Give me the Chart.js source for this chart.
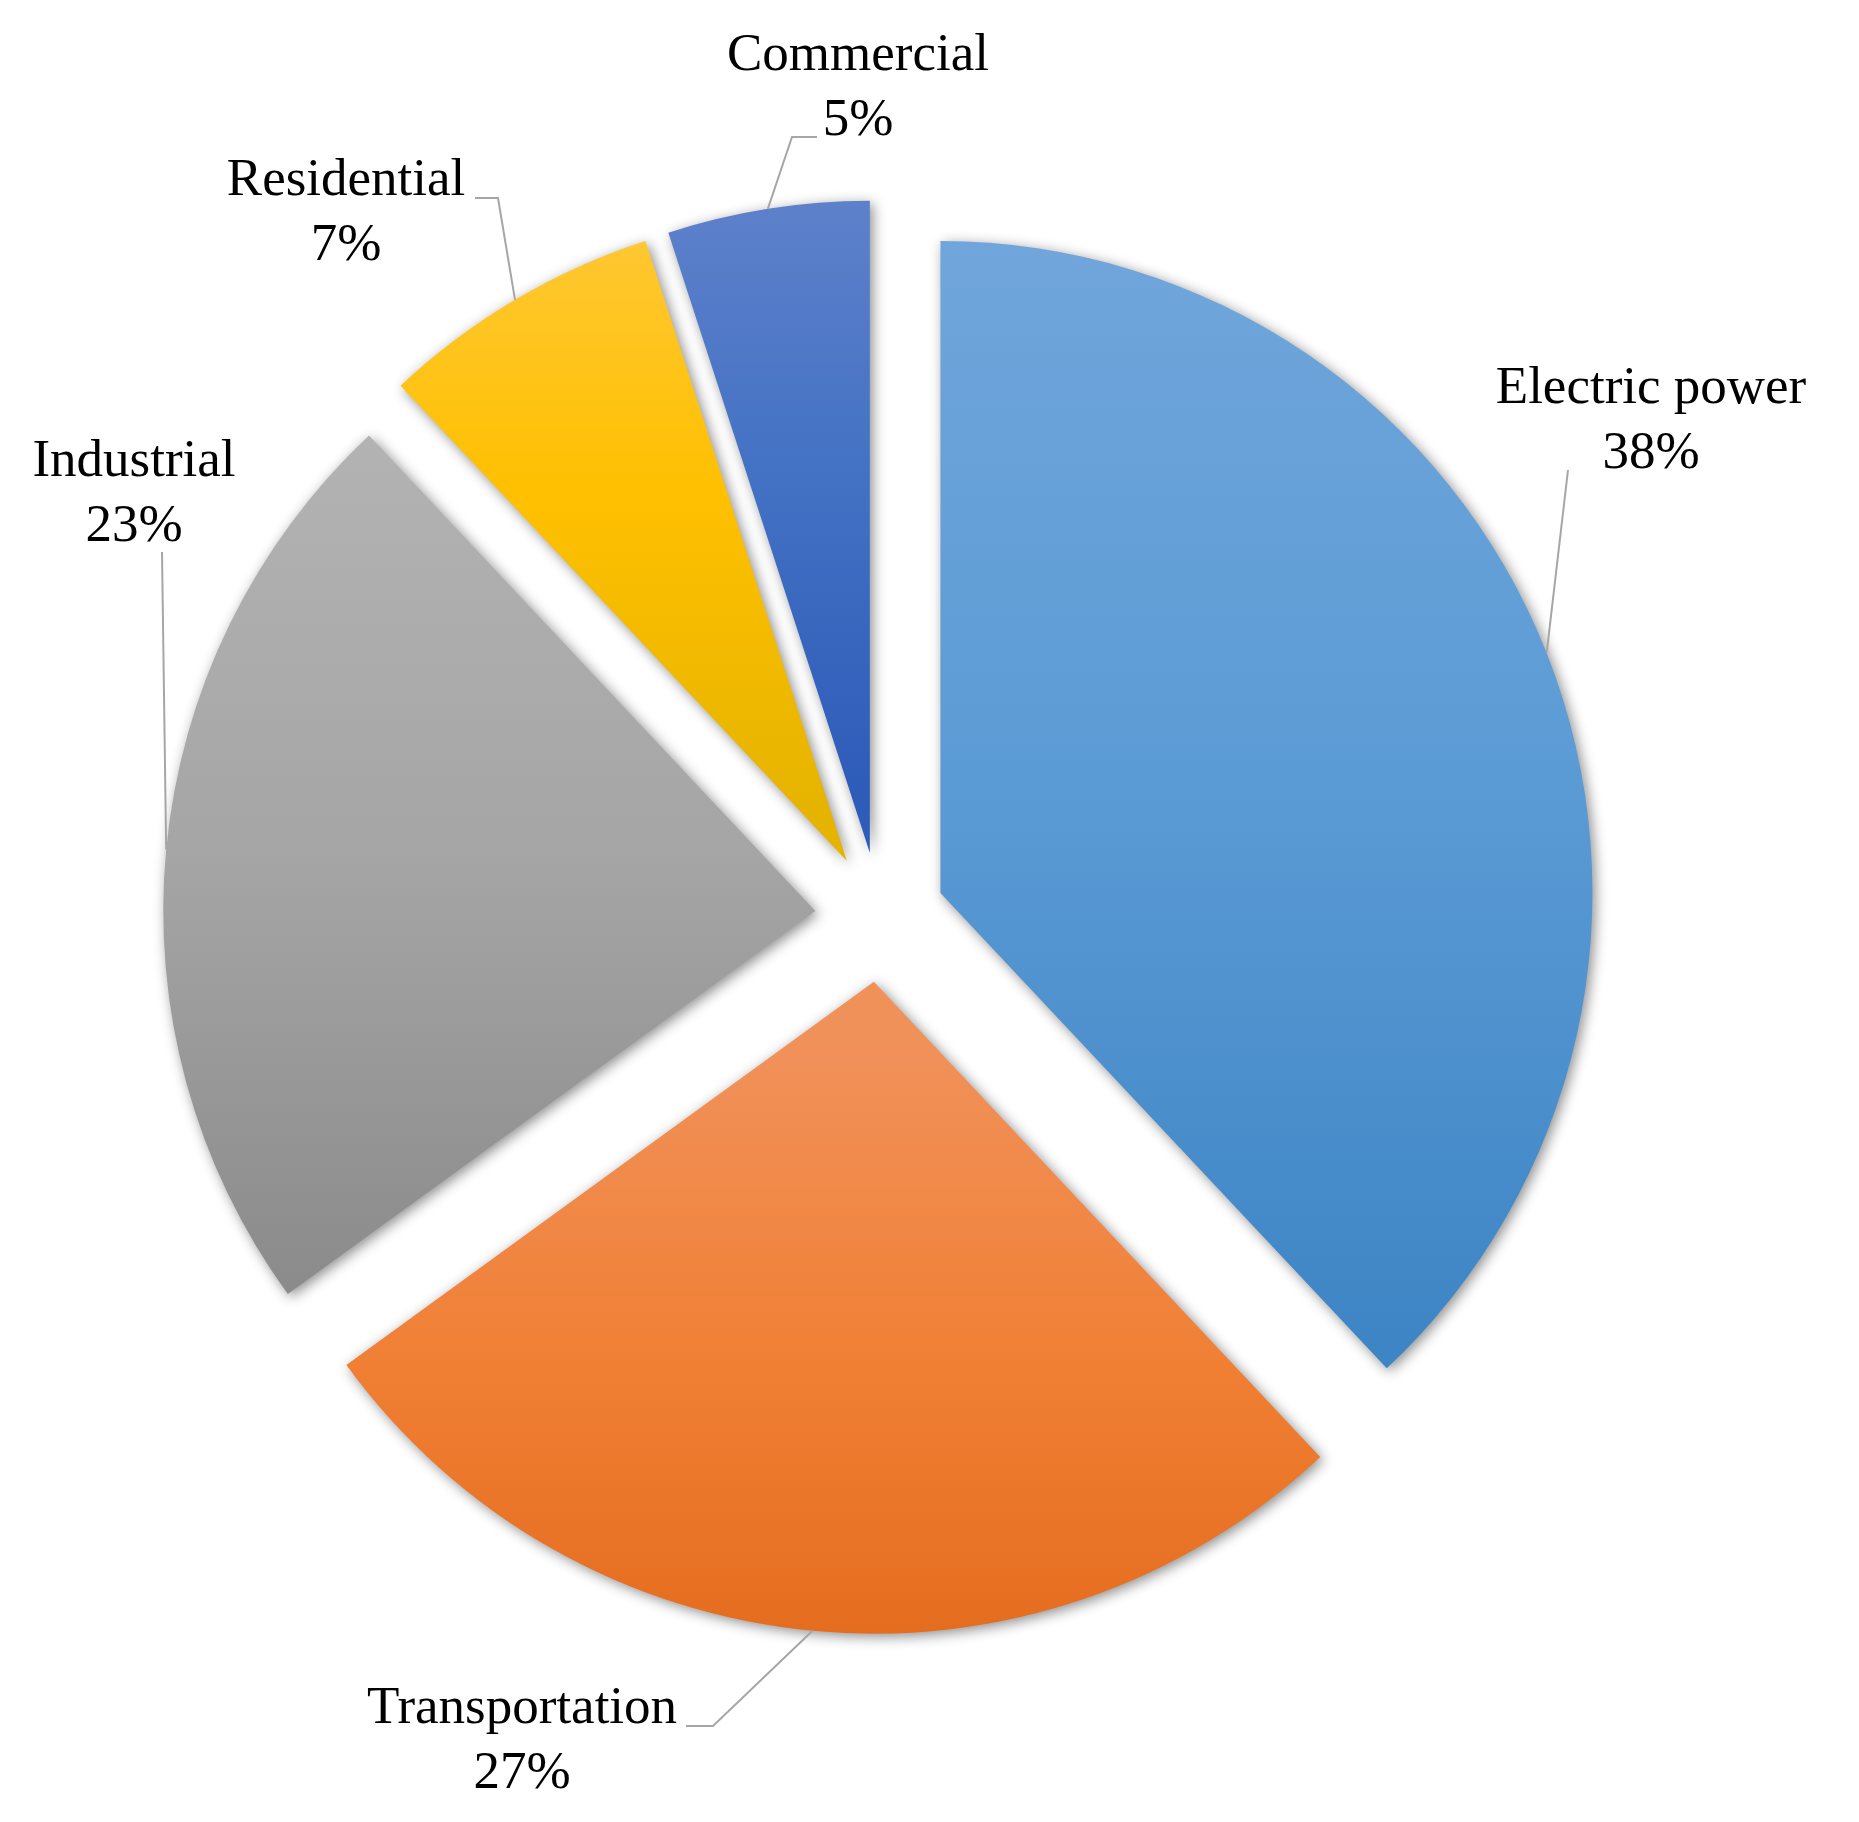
<!DOCTYPE html>
<html>
<head>
<meta charset="utf-8">
<script src="https://cdn.jsdelivr.net/npm/chart.js@4.4.1/dist/chart.umd.min.js"></script>
<style>
  html, body { margin: 0; padding: 0; background: #fff; }
  #cadre { width: 1859px; height: 1822px; position: relative; }
</style>
</head>
<body>
<div id="cadre"><canvas id="graphique-secteurs"></canvas></div>
<script>
// Données
const categories = ["Electric power", "Transportation", "Industrial", "Residential", "Commercial"]
const parts = [38, 27, 23, 7, 5]

// Couleurs du dégradé (haut, milieu, bas) de chaque secteur
const couleursHaut = ["#71a6db", "#f1915a", "#b3b3b3", "#ffc93c", "#6484cc"]
const couleursMilieu = ["#5b9bd5", "#f07f33", "#a5a5a5", "#ffc000", "#4472c4"]
const couleursBas = ["#3e85c5", "#e2681a", "#8b8b8b", "#e6b400", "#2e5cb9"]

const RAYON = 652
const ECART = 65 // éclatement des secteurs

// Placement des étiquettes : centre du texte, ligne de base, coudes du trait de rappel
const etiquettes = [
    { x: 1651, y: 403, coudes: [[1568, 470]] },
    { x: 522, y: 1723, coudes: [[686, 1726], [713, 1726]] },
    { x: 134, y: 476, coudes: [[162, 552]] },
    { x: 346, y: 195, coudes: [[475, 198], [498, 198]] },
    { x: 858, y: 70, coudes: [[817, 137], [792, 137]] }
]

const total = parts.reduce((a, b) => a + b, 0)

// Dégradé vertical calé sur la hauteur de chaque secteur
function degradeSecteur(context) {
    const chart = context.chart
    const zone = chart.chartArea
    const i = context.dataIndex
    if (!zone) return couleursMilieu[i]
    const avant = parts.slice(0, i).reduce((a, b) => a + b, 0)
    const debut = -Math.PI / 2 + 2 * Math.PI * avant / total
    const fin = debut + 2 * Math.PI * parts[i] / total
    const milieu = (debut + fin) / 2
    const cy = (zone.top + zone.bottom) / 2 + Math.sin(milieu) * ECART
    let haut = cy
    let bas = cy
    for (let k = 0; k <= 60; k++) {
        const y = cy + Math.sin(debut + (fin - debut) * k / 60) * RAYON
        haut = Math.min(haut, y)
        bas = Math.max(bas, y)
    }
    const g = chart.ctx.createLinearGradient(0, haut, 0, bas)
    g.addColorStop(0, couleursHaut[i])
    g.addColorStop(0.5, couleursMilieu[i])
    g.addColorStop(1, couleursBas[i])
    return g
}

// Chart.js agrandit un peu les secteurs étroits quand ils sont décalés : on compense
const correctionRayon = {
    id: "correctionRayon",
    afterDatasetUpdate(chart, args) {
        for (const arc of args.meta.data) {
            const fix = 1 - Math.sin(Math.min(Math.PI, arc.circumference))
            const ro = ECART * fix
            arc.outerRadius = RAYON - ro
            const d = ro / (2 * Math.PI * RAYON)
            arc.startAngle -= d
            arc.endAngle += d
        }
    }
}

const ombre = {
    id: "ombre",
    beforeDatasetsDraw(chart) {
        const ctx = chart.ctx
        ctx.save()
        ctx.shadowColor = "rgba(0, 0, 0, 0.45)"
        ctx.shadowBlur = 13
        ctx.shadowOffsetX = 3
        ctx.shadowOffsetY = 3
    },
    afterDatasetsDraw(chart) {
        chart.ctx.restore()
    }
}

const etiquettesSecteurs = {
    id: "etiquettesSecteurs",
    afterDraw(chart) {
        const ctx = chart.ctx
        const meta = chart.getDatasetMeta(0)
        ctx.save()
        meta.data.forEach((arc, i) => {
            const e = etiquettes[i]
            const milieu = (arc.startAngle + arc.endAngle) / 2
            const cx = arc.x + Math.cos(milieu) * ECART
            const cy = arc.y + Math.sin(milieu) * ECART
            const bout = [cx + Math.cos(milieu) * RAYON, cy + Math.sin(milieu) * RAYON]
            // trait de rappel
            ctx.strokeStyle = "#a6a6a6"
            ctx.lineWidth = 2
            ctx.beginPath()
            e.coudes.forEach((p, k) => k === 0 ? ctx.moveTo(p[0], p[1]) : ctx.lineTo(p[0], p[1]))
            ctx.lineTo(bout[0], bout[1])
            ctx.stroke()
            // texte
            ctx.fillStyle = "#000"
            ctx.font = "53px 'Liberation Serif', 'Times New Roman', serif"
            ctx.textAlign = "center"
            ctx.textBaseline = "alphabetic"
            ctx.fillText(categories[i], e.x, e.y)
            ctx.fillText(Math.round(parts[i] / total * 100) + "%", e.x, e.y + 65)
        })
        ctx.restore()
    }
}

const data = {
    labels: categories,
    datasets: [{
        data: parts,
        backgroundColor: degradeSecteur,
        borderWidth: 0,
        offset: ECART * 4,
        hoverOffset: 0,
        radius: RAYON
    }]
}

const config = {
    type: "pie",
    data: data,
    options: {
        responsive: true,
        maintainAspectRatio: false,
        animation: false,
        events: [],
        radius: RAYON,
        layout: { padding: { left: 0, right: 99, top: 12, bottom: 0 } },
        plugins: {
            legend: { display: false },
            tooltip: { enabled: false }
        }
    },
    plugins: [correctionRayon, ombre, etiquettesSecteurs]
}

const graphiqueSecteurs = new Chart(document.querySelector("#graphique-secteurs"), config)
</script>
</body>
</html>
